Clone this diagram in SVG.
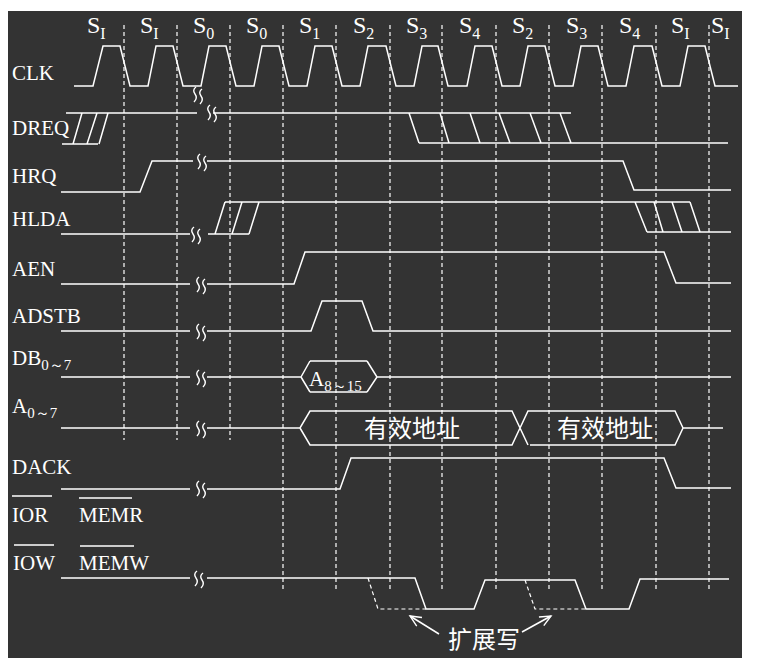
<svg xmlns="http://www.w3.org/2000/svg" width="757" height="662" viewBox="0 0 757 662">
<style>
.w{fill:none;stroke:#fff;stroke-width:1.5}
.d{fill:none;stroke:#fff;stroke-width:1.2;stroke-dasharray:4,3}
.t{fill:#fff;font-family:"Liberation Serif",serif;font-size:21px}
.s{fill:#fff;font-family:"Liberation Serif",serif;font-size:24px}
.c{fill:#fff;font-family:"Noto Sans CJK SC",sans-serif;font-size:24px}
</style>
<defs>
<g id="brk" class="w" style="stroke-width:1.4"><path d="M4,0 Q0,3 3,7 Q6,11 2,15"/><path d="M10,2 Q6,5 9,9 Q12,13 8,17"/></g>
<marker id="ah" markerWidth="14" markerHeight="14" refX="12" refY="6" orient="auto" markerUnits="userSpaceOnUse"><path d="M1,1 L12,6 L1,11" fill="none" stroke="#fff" stroke-width="1.4"/></marker>
</defs>
<rect x="8" y="11" width="734" height="647" fill="#333"/>
<g id="grid">
<path class="d" d="M124,25V440M177,25V440M230,25V440M283,25V590M336,25V590M390,25V590M442,25V590M496,25V590M549,25V590M602,25V590M656,25V590M709,25V590"/>
</g>
<g id="states" class="s">
<text x="87" y="33">S<tspan font-size="16" dy="6">I</tspan></text>
<text x="140" y="33">S<tspan font-size="16" dy="6">I</tspan></text>
<text x="193" y="33">S<tspan font-size="16" dy="6">0</tspan></text>
<text x="246" y="33">S<tspan font-size="16" dy="6">0</tspan></text>
<text x="299" y="33">S<tspan font-size="16" dy="6">1</tspan></text>
<text x="353" y="33">S<tspan font-size="16" dy="6">2</tspan></text>
<text x="406" y="33">S<tspan font-size="16" dy="6">3</tspan></text>
<text x="459" y="33">S<tspan font-size="16" dy="6">4</tspan></text>
<text x="512" y="33">S<tspan font-size="16" dy="6">2</tspan></text>
<text x="566" y="33">S<tspan font-size="16" dy="6">3</tspan></text>
<text x="619" y="33">S<tspan font-size="16" dy="6">4</tspan></text>
<text x="671" y="33">S<tspan font-size="16" dy="6">I</tspan></text>
<text x="711" y="33">S<tspan font-size="16" dy="6">I</tspan></text>
</g>
<g id="labels" class="t">
<text x="12" y="80">CLK</text>
<text x="12" y="135">DREQ</text>
<text x="12" y="183">HRQ</text>
<text x="12" y="226">HLDA</text>
<text x="12" y="276">AEN</text>
<text x="12" y="323">ADSTB</text>
<text x="12" y="365">DB<tspan font-size="15" dy="5">0～7</tspan></text>
<text x="12" y="413">A<tspan font-size="15" dy="5">0～7</tspan></text>
<text x="12" y="474">DACK</text>
<text x="12" y="522">IOR</text>
<text x="79" y="522">MEMR</text>
<text x="13" y="570">IOW</text>
<text x="79" y="570">MEMW</text>
<path class="w" d="M12,496H52M79,498H132M14,545H54M80,546H134"/>
</g>
<g id="wires">
<path class="w" d="M74,86H93L103,46H120L130,86H148L156,46H173L183,86H201L209,46H226L236,86H254L262,46H279L289,86H307L315,46H332L342,86H360L368,46H386L396,86H414L422,46H438L448,86H467L475,46H492L502,86H520L528,46H545L555,86H573L581,46H598L608,86H626L634,46H652L662,86H680L688,46H705L715,86H738"/>
<path class="w" d="M66,113H197M213,113H571M62,144H98M73,144L82,113M87,144L97,113M99,144L108,113M419,143H728M409,113L419,143M440,113L449,143M470,113L480,143M499,113L510,143M530,113L541,143M560,113L571,143"/>
<path class="w" d="M61,192H140L152,161H193M207,161H623L634,190H731"/>
<path class="w" d="M61,234H190M208,234H249M225,202H690M215,234L225,202M232,234L242,202M249,234L259,202M635,202L647,232M654,202L663,232M672,202L682,232M690,202L700,232M647,232H731"/>
<path class="w" d="M61,284H190M207,284H294L305,252H664L676,283H731"/>
<path class="w" d="M61,331H190M207,331H311L322,301H362L373,331H731"/>
<path class="w" d="M61,377H190M207,377H301M310,361H367M310,392H367M301,377L310,361M301,377L310,392M367,361L377,377L367,392M377,377H731"/>
<path class="w" d="M61,428H190M207,428H300L310,411H512L528,445M300,428L310,445H512L528,411H675L683,428L675,445H530M683,428H723"/>
<path class="w" d="M61,489H190M207,489H340L351,458H664L676,488H731"/>
<path class="w" d="M61,578H190M207,578H415L426,609H474L485,580H575L586,609H629L640,579H729"/>
<path class="d" d="M368,578L378,609H426M525,580L535,609H586"/>
<path class="w" d="M439,634L410,616" marker-end="url(#ah)"/>
<path class="w" d="M522,632L551,616" marker-end="url(#ah)"/>
<use href="#brk" x="192" y="87"/>
<use href="#brk" x="206" y="105"/>
<use href="#brk" x="196" y="154"/>
<use href="#brk" x="190" y="227"/>
<use href="#brk" x="195" y="277"/>
<use href="#brk" x="195" y="324"/>
<use href="#brk" x="195" y="370"/>
<use href="#brk" x="195" y="421"/>
<use href="#brk" x="195" y="481"/>
<use href="#brk" x="193" y="571"/>
</g>
<g id="bus-text">
<text class="t" x="309" y="386">A<tspan font-size="15" dy="5">8～15</tspan></text>
<text class="c" x="412" y="437" text-anchor="middle">有效地址</text>
<text class="c" x="605" y="437" text-anchor="middle">有效地址</text>
<text class="c" x="484" y="648" text-anchor="middle">扩展写</text>
</g>
</svg>
